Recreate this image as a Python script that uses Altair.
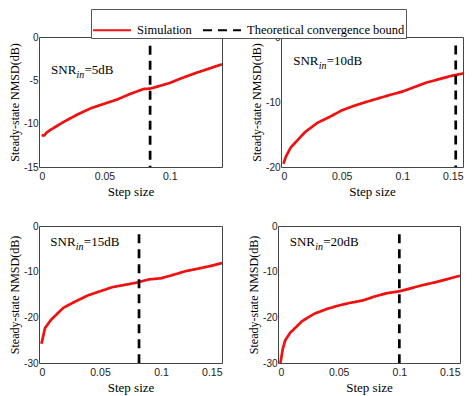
import altair as alt
import pandas as pd

# ---- data ----
step1 = [0.002, 0.004, 0.006, 0.01, 0.02, 0.03, 0.04, 0.05, 0.06, 0.07, 0.08, 0.085, 0.09, 0.10, 0.11, 0.12, 0.13, 0.14]
nmsd1 = [-11.35, -11.35, -11.0, -10.6, -9.7, -8.9, -8.2, -7.7, -7.2, -6.55, -6.0, -5.95, -5.75, -5.3, -4.7, -4.15, -3.65, -3.15]

step2 = [0.002, 0.004, 0.008, 0.01, 0.02, 0.03, 0.04, 0.05, 0.06, 0.07, 0.08, 0.09, 0.10, 0.11, 0.12, 0.13, 0.14, 0.15]
nmsd2 = [-19.5, -18.4, -17.0, -16.6, -14.6, -13.2, -12.3, -11.3, -10.6, -10.0, -9.45, -8.9, -8.4, -7.7, -7.0, -6.5, -6.0, -5.6]

step3 = [0.002, 0.005, 0.01, 0.02, 0.03, 0.04, 0.05, 0.06, 0.07, 0.08, 0.09, 0.10, 0.11, 0.12, 0.13, 0.14, 0.15]
nmsd3 = [-25.8, -22.3, -20.5, -17.9, -16.5, -15.2, -14.3, -13.4, -12.9, -12.4, -11.7, -11.45, -10.7, -9.9, -9.35, -8.8, -8.1]

step4 = [0.002, 0.004, 0.006, 0.01, 0.02, 0.03, 0.04, 0.05, 0.06, 0.07, 0.08, 0.09, 0.10, 0.11, 0.12, 0.13, 0.14, 0.15]
nmsd4 = [-30.0, -26.8, -25.0, -23.4, -20.8, -19.2, -18.2, -17.4, -16.8, -16.3, -15.4, -14.7, -14.3, -13.6, -12.9, -12.3, -11.6, -10.9]

bounds = [0.085, 0.144, 0.082, 0.100]
bound_top = [-1.0, -1.3, -1.8, -1.8]
snr_labels = ["=5dB", "=10dB", "=15dB", "=20dB"]
label_x = [0.0092, 0.0101, 0.0093, 0.0096]
label_y = [-4.26, -4.3, -4.4, -4.4]

x_max = [0.14, 0.15, 0.15, 0.15]
y_min = [-15, -20, -30, -30]
x_ticks = [[0, 0.05, 0.1], [0, 0.05, 0.1, 0.15], [0, 0.05, 0.1, 0.15], [0, 0.05, 0.1, 0.15]]
y_ticks = [[-15, -10, -5, 0], [-20, -15, -10, -5, 0], [-30, -20, -10, 0], [-30, -20, -10, 0]]

series_names = ["Simulation", "Theoretical convergence bound"]
steps = [step1, step2, step3, step4]
vals = [nmsd1, nmsd2, nmsd3, nmsd4]

SERIF = "Liberation Serif"
SANS = "Liberation Sans"


def panel(i, w, h):
    sim = pd.DataFrame({"step": steps[i], "nmsd": vals[i], "series": series_names[0]})
    bnd = pd.DataFrame({"step": [bounds[i], bounds[i]], "nmsd": [bound_top[i], y_min[i]],
                        "series": series_names[1]})
    df = pd.concat([sim, bnd], ignore_index=True)
    x = alt.X("step:Q", scale=alt.Scale(domain=[0, x_max[i]], nice=False, zero=False),
              axis=alt.Axis(values=x_ticks[i], title="Step size", labelExpr="'' + datum.value"))
    y = alt.Y("nmsd:Q", scale=alt.Scale(domain=[y_min[i], 0], nice=False, zero=False),
              axis=alt.Axis(values=y_ticks[i], title="Steady-state NMSD(dB)", labelExpr="'' + datum.value"))
    lines = alt.Chart(df).mark_line(clip=True, strokeWidth=2.7).encode(
        x=x, y=y,
        color=alt.Color("series:N", scale=alt.Scale(domain=series_names, range=["#f01010", "#000000"]),
                        legend=alt.Legend(title=None)),
        strokeDash=alt.StrokeDash("series:N", scale=alt.Scale(domain=series_names, range=[[1, 0], [9, 6]]),
                                  legend=alt.Legend(title=None)),
        detail="series:N",
    )
    ann = pd.DataFrame({"step": [label_x[i]], "nmsd": [label_y[i]], "a": ["SNR"], "b": ["in"], "c": [snr_labels[i]]})
    base = alt.Chart(ann).encode(x=alt.X("step:Q"), y=alt.Y("nmsd:Q"))
    t1 = base.mark_text(align="left", baseline="alphabetic", font=SERIF, fontSize=13, color="black").encode(text="a:N")
    t2 = base.mark_text(align="left", baseline="alphabetic", font=SERIF, fontSize=10, fontStyle="italic",
                        dx=25.5, dy=4, color="black").encode(text="b:N")
    t3 = base.mark_text(align="left", baseline="alphabetic", font=SERIF, fontSize=13,
                        dx=33.5, color="black").encode(text="c:N")
    return alt.layer(lines, t1, t2, t3).properties(width=w, height=h)


row1 = alt.hconcat(panel(0, 183, 130), panel(1, 182, 130), spacing=27)
row2 = alt.hconcat(panel(2, 183, 137), panel(3, 182, 137), spacing=24)
chart = alt.vconcat(row1, row2, spacing=21).resolve_scale(
    color="shared", strokeDash="shared"
).properties(
    padding={"left": 0, "top": 0, "right": 0, "bottom": 0}
).configure_view(
    stroke="#444444", strokeWidth=1
).configure_axis(
    labelFont=SANS, labelColor="#222222",
    titleFont=SERIF, titleFontWeight=400, titleColor="black",
    ticks=False, domain=False, grid=False,
).configure_axisX(
    labelFontSize=10.5, titleFontSize=13, titleFontWeight=400,
    labelPadding=4, titlePadding=4,
).configure_axisY(
    labelFontSize=10, titleFontSize=12, titleFontWeight=400,
    labelPadding=1, titlePadding=2,
).configure_legend(
    orient="none", legendX=52, legendY=-28, direction="horizontal",
    strokeColor="#555555", fillColor="white", padding=1,
    symbolType="M-1,0H1", symbolSize=1444, symbolStrokeWidth=2,
    labelFont=SERIF, labelFontSize=12.5, labelColor="black", labelLimit=400,
    labelOffset=5, columnPadding=7,
)

chart.save("out.html", embed_options={"renderer": "svg", "actions": False})
